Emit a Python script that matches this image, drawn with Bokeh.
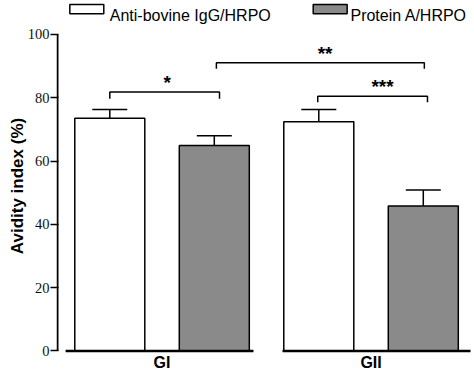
from bokeh.plotting import figure
from bokeh.models import Range1d, FixedTicker, ColumnDataSource, Whisker, TeeHead
from bokeh.core.properties import value
from bokeh.embed import file_html
from bokeh.resources import INLINE

# ---- data ----
groups = ["GI", "GII"]
series = ["Anti-bovine IgG/HRPO", "Protein A/HRPO"]
series_colors = ["#ffffff", "#8a8a8a"]
anti_means = [73.5, 72.4]
anti_err = [2.8, 3.9]
prot_means = [64.9, 45.8]
prot_err = [3.1, 5.1]
y_ticks = [0, 20, 40, 60, 80, 100]

# significance brackets (in bar-slot units) and labels
sig_labels = ["*", "**", "***"]
sig_left = [0.0, 1.02, 1.99]
sig_right = [1.05, 3.01, 3.04]
sig_level = [81.8, 91.1, 80.5]
sig_drop = [2.1, 1.9, 1.9]
sig_label_x = [0.55, 2.06, 2.61]

# ---- build bar table ----
xs, tops, errs, fills = [], [], [], []
for gi, g in enumerate(groups):
    for si, (m, e) in enumerate([(anti_means, anti_err), (prot_means, prot_err)]):
        xs.append(gi * 2 + si)
        tops.append(m[gi])
        errs.append(e[gi])
        fills.append(series_colors[si])
src = ColumnDataSource(dict(x=xs, top=tops, upper=[t + e for t, e in zip(tops, errs)], fill=fills))

p = figure(width=474, height=371, output_backend="svg", toolbar_location=None,
           x_range=Range1d(-0.510, 3.490), y_range=Range1d(-6.48, 110.74),
           x_axis_location=None, min_border_left=56, min_border_right=0,
           min_border_top=0, min_border_bottom=0)
p.outline_line_color = None
p.xgrid.visible = False
p.ygrid.visible = False
p.background_fill_color = "white"
p.border_fill_color = "white"

ax = p.yaxis[0]
ax.ticker = FixedTicker(ticks=y_ticks)
ax.axis_line_color = None
ax.major_tick_out = 6
ax.major_tick_in = 2
ax.major_tick_line_width = 1.5
ax.major_tick_line_color = "black"
ax.minor_tick_line_color = None
ax.major_label_standoff = 1
ax.major_label_text_font = "Liberation Serif"
ax.major_label_text_font_size = "14.5px"
ax.major_label_text_color = "#111111"
ax.axis_label = "Avidity index (%)"
ax.axis_label_text_font = "Liberation Sans"
ax.axis_label_text_font_style = "bold"
ax.axis_label_text_font_size = "17px"
ax.axis_label_text_color = "black"
ax.axis_label_standoff = -2

# bars
p.vbar(x="x", top="top", bottom=0, width=0.67, source=src, fill_color="fill",
       line_color="black", line_width=1.5)
# error bars (upper only)
p.add_layout(Whisker(base="x", lower="top", upper="upper", source=src, dimension="height",
                     line_color="black", line_width=1.5, lower_head=None,
                     upper_head=TeeHead(size=35, line_color="black", line_width=1.5)))

# y axis line and broken x baseline
p.segment(x0=[-0.5005], y0=[0], x1=[-0.5005], y1=[y_ticks[-1]], line_color="black", line_width=2)
p.segment(x0=[-0.423, 1.653], y0=[0, 0], x1=[1.375, 3.452], y1=[0, 0], line_color="black", line_width=2.5)

# group labels
p.text(x=[gi * 2 + 0.5 for gi in range(len(groups))], y=[-3.6] * len(groups), text=groups,
       text_font=value("Liberation Sans"), text_font_style="bold", text_font_size="16px",
       text_align="center", text_baseline="middle", text_color="black")

# significance brackets
bx, by = [], []
for l, r, lv, d in zip(sig_left, sig_right, sig_level, sig_drop):
    bx.append([l, l, r, r])
    by.append([lv - d, lv, lv, lv - d])
p.multi_line(xs=bx, ys=by, line_color="black", line_width=1.5)
p.text(x=sig_label_x, y=[lv + 3.0 for lv in sig_level], text=sig_labels,
       text_font=value("Liberation Sans"), text_font_style="bold", text_font_size="19px",
       text_align="center", text_baseline="alphabetic", text_color="black")

# legend (manual, top of chart)
p.rect(x=[-0.220, 2.109], y=[108.0, 108.0], width=0.325, height=2.94,
       fill_color=series_colors, line_color="black", line_width=1.5)
p.text(x=[0.0, 2.303], y=[106.0, 106.0], text=series,
       text_font=value("Liberation Sans"), text_font_size="16px",
       text_align="left", text_baseline="alphabetic", text_color="black")

open("out.html", "w").write(file_html(p, INLINE))
